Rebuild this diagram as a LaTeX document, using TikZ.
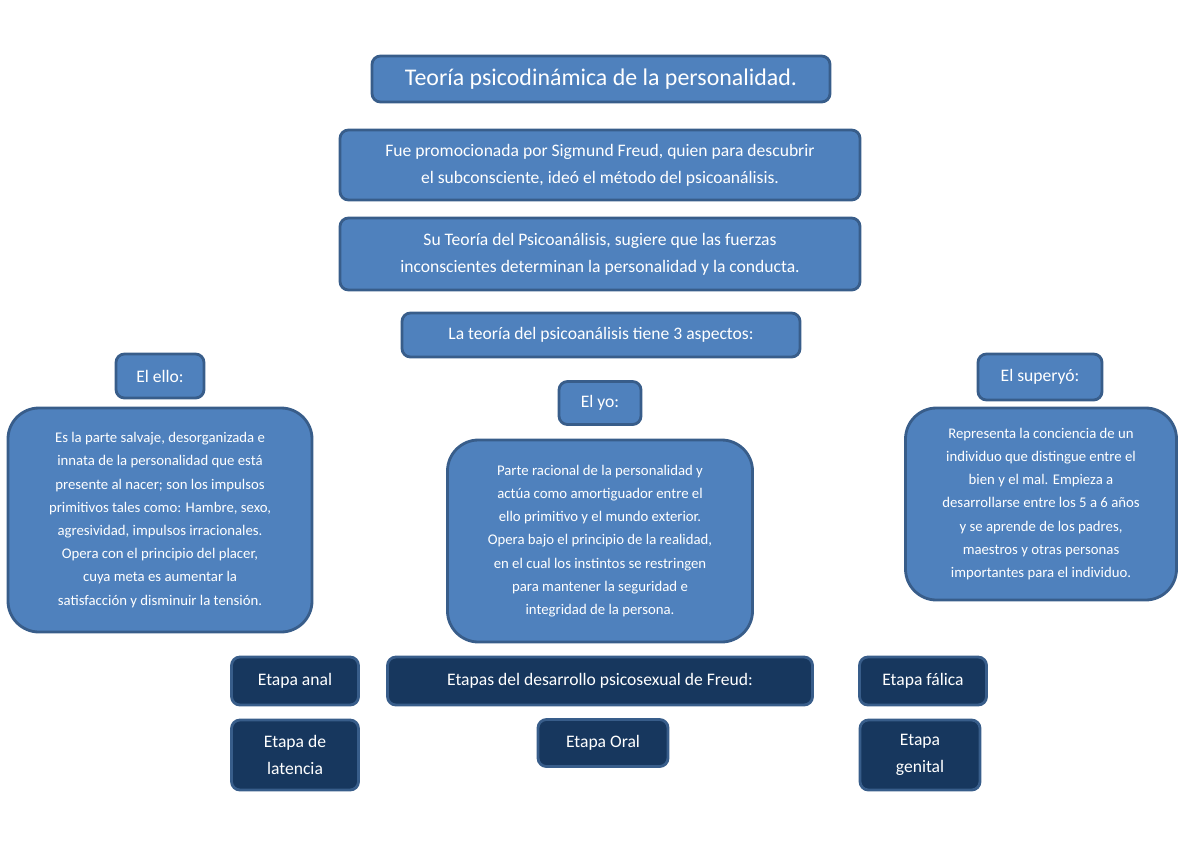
\documentclass[tikz,border=0pt]{standalone}
\usepackage{fontspec}
\setmainfont{Carlito}
\begin{document}
\definecolor{fillb}{HTML}{4F81BD}
\definecolor{edgeb}{HTML}{385D8A}
\definecolor{navy}{HTML}{17375E}
\begin{tikzpicture}[x=0.025cm,y=-0.025cm,
 box/.style={draw=edgeb,line width=2pt,fill=fillb,rounded corners=6pt,text=white,align=center,inner sep=0pt},
 dbox/.style={box,fill=navy},
 con/.style={draw=fillb,line width=3pt,preaction={draw=gray!70,line width=3pt,transform canvas={yshift=-1pt}}}]
\useasboundingbox (0,0) rectangle (1200,848);
\def\bx#1#2#3#4#5#6#7{\node[#1,minimum width=#4*0.025cm,minimum height=#5*0.025cm,#6] (#2) at #3 {#7};}
\bx{box}{t}{(601,79)}{458}{46}{font=\fontsize{17}{20}\selectfont}{Teoría psicodinámica de la personalidad.}
\bx{box}{b2}{(600,165)}{520}{70}{font=\fontsize{12.5}{19}\selectfont}{Fue promocionada por Sigmund Freud, quien para descubrir\\el subconsciente, ideó el método del psicoanálisis.}
\bx{box}{b3}{(600,254)}{520}{72}{font=\fontsize{12.5}{19}\selectfont}{Su Teoría del Psicoanálisis, sugiere que las fuerzas\\inconscientes determinan la personalidad y la conducta.}
\bx{box}{asp}{(601,335)}{398}{44}{font=\fontsize{12.5}{15}\selectfont}{La teoría del psicoanálisis tiene 3 aspectos:}
\bx{box}{ello}{(160,376)}{88}{44}{font=\fontsize{12.5}{15}\selectfont}{El ello:}
\bx{box}{yo}{(600,403)}{82}{43}{font=\fontsize{12.5}{15}\selectfont}{El yo:}
\bx{box}{sup}{(1040,377)}{124}{46}{font=\fontsize{12.5}{15}\selectfont}{El superyó:}
\bx{box}{ellot}{(160,520)}{304}{224}{rounded corners=22pt,font=\fontsize{10.5}{16.5}\selectfont}{Es la parte salvaje, desorganizada e\\innata de la personalidad que está\\presente al nacer; son los impulsos\\primitivos tales como: Hambre, sexo,\\agresividad, impulsos irracionales.\\Opera con el principio del placer,\\cuya meta es aumentar la\\satisfacción y disminuir la tensión.}
\bx{box}{yot}{(600,541)}{305}{202}{rounded corners=22pt,font=\fontsize{10.5}{16.5}\selectfont}{Parte racional de la personalidad y\\actúa como amortiguador entre el\\ello primitivo y el mundo exterior.\\Opera bajo el principio de la realidad,\\en el cual los instintos se restringen\\para mantener la seguridad e\\integridad de la persona.}
\bx{box}{supt}{(1041,504)}{271}{192}{rounded corners=22pt,font=\fontsize{10.5}{16.5}\selectfont}{Representa la conciencia de un\\individuo que distingue entre el\\bien y el mal. Empieza a\\desarrollarse entre los 5 a 6 años\\y se aprende de los padres,\\maestros y otras personas\\importantes para el individuo.}
\bx{dbox}{et}{(600,681)}{425}{48}{font=\fontsize{12.5}{15}\selectfont}{Etapas del desarrollo psicosexual de Freud:}
\bx{dbox}{anal}{(295,681)}{127}{48}{font=\fontsize{12.5}{15}\selectfont}{Etapa anal}
\bx{dbox}{fal}{(923,681)}{127}{48}{font=\fontsize{12.5}{15}\selectfont}{Etapa fálica}
\bx{dbox}{lat}{(295,755)}{127}{70}{font=\fontsize{12.5}{19}\selectfont}{Etapa de\\latencia}
\bx{dbox}{oral}{(603,743)}{130}{47}{font=\fontsize{12.5}{15}\selectfont}{Etapa Oral}
\bx{dbox}{gen}{(920,755)}{120}{70}{font=\fontsize{12.5}{19}\selectfont}{Etapa\\genital}
\coordinate (hl) at (160,336);
\coordinate (hr) at (1045,336);
\begin{scope}[on background layer/.style={}]
\end{scope}
\end{tikzpicture}
\end{document}
